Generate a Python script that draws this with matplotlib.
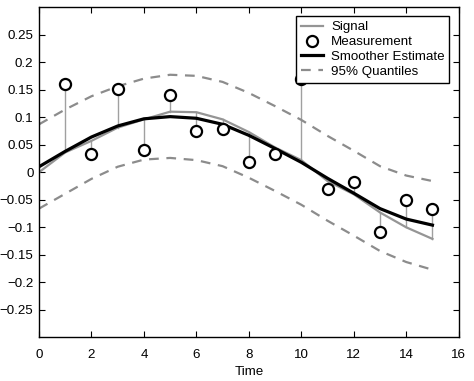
import numpy as np
import matplotlib
matplotlib.use("Agg")
import matplotlib.pyplot as plt

plt.rcParams['font.family'] = ['Liberation Sans', 'DejaVu Sans']

t = list(range(0, 16))
signal = [0.0, 0.036, 0.057, 0.081, 0.096, 0.110, 0.109, 0.096, 0.073, 0.045,
          0.022, -0.016, -0.040, -0.073, -0.100, -0.121]
meas_t = list(range(1, 16))
measurement = [0.161, 0.033, 0.152, 0.040, 0.141, 0.075, 0.078, 0.019, 0.033,
               0.170, -0.030, -0.018, -0.108, -0.051, -0.066]
smoother = [0.010, 0.038, 0.064, 0.084, 0.097, 0.101, 0.098, 0.087, 0.067, 0.043,
            0.018, -0.011, -0.038, -0.066, -0.085, -0.096]
upper = [0.087, 0.114, 0.138, 0.156, 0.170, 0.177, 0.175, 0.164, 0.144, 0.120,
         0.095, 0.066, 0.039, 0.011, -0.006, -0.016]
lower = [-0.066, -0.039, -0.012, 0.010, 0.023, 0.026, 0.022, 0.011, -0.010, -0.034,
         -0.059, -0.088, -0.115, -0.143, -0.163, -0.177]

xticks = [0, 2, 4, 6, 8, 10, 12, 14, 16]
yticks = [-0.25, -0.2, -0.15, -0.1, -0.05, 0, 0.05, 0.1, 0.15, 0.2, 0.25]
ytick_labels = ['\u22120.25', '\u22120.2', '\u22120.15', '\u22120.1', '\u22120.05', '0',
                '0.05', '0.1', '0.15', '0.2', '0.25']

fig = plt.figure(figsize=(4.74, 3.81), dpi=100)
ax = fig.add_axes([0.0823, 0.1142, 0.9677 - 0.0823, 0.9816 - 0.1142])

gray = '#959595'
dgray = '#8c8c8c'

# stems between signal and measurement
sig_at = dict(zip(t, signal))
for ti, m in zip(meas_t, measurement):
    ax.plot([ti, ti], [sig_at[ti], m], color='#a0a0a0', lw=1.0, zorder=1)

lw_q = 1.6
l_sig, = ax.plot(t, signal, color=gray, lw=1.6, zorder=2, label='Signal')
l_q, = ax.plot(t, upper, color=dgray, lw=lw_q, zorder=2,
               linestyle=(0, (7.0 / lw_q, 5.5 / lw_q)), label='95% Quantiles')
ax.plot(t, lower, color=dgray, lw=lw_q, zorder=2,
        linestyle=(0, (7.0 / lw_q, 5.5 / lw_q)))
l_sm, = ax.plot(t, smoother, color='black', lw=2.3, zorder=3, label='Smoother Estimate')
l_m, = ax.plot(meas_t, measurement, linestyle='none', marker='o', markersize=8,
               markerfacecolor='white', markeredgecolor='black', markeredgewidth=1.6,
               zorder=4, label='Measurement')

ax.set_xlim(0, 16)
ax.set_ylim(-0.3, 0.3)
ax.set_xticks(xticks)
ax.set_xticklabels([str(x) for x in xticks])
ax.set_yticks(yticks)
ax.set_yticklabels(ytick_labels)
ax.tick_params(direction='in', top=True, right=True, length=4, width=0.8,
               labelsize=9.6, colors='black')
ax.tick_params(axis='y', pad=4)
ax.tick_params(axis='x', pad=8)
for s in ax.spines.values():
    s.set_linewidth(1.0)
ax.set_xlabel('Time', fontsize=9.6, labelpad=4)

leg = ax.legend([l_sig, l_m, l_sm, l_q],
                ['Signal', 'Measurement', 'Smoother Estimate', '95% Quantiles'],
                loc='upper right', fontsize=9.6, frameon=True, fancybox=False,
                edgecolor='black', framealpha=1, borderaxespad=0.7,
                handlelength=1.65, handletextpad=0.6, labelspacing=0.19,
                borderpad=0.35)
leg.get_frame().set_linewidth(1.0)
leg.set_zorder(10)

fig.savefig('out.png', dpi=100)
